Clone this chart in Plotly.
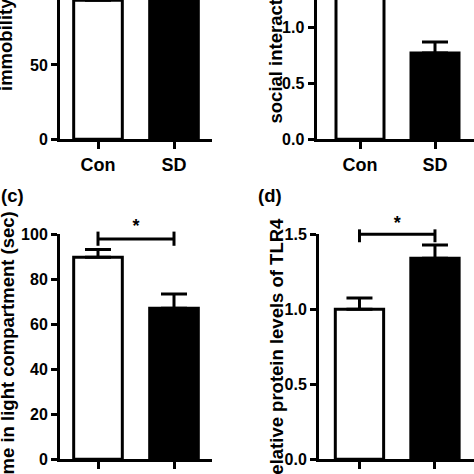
import plotly.graph_objects as go

W = H = 474

categories = ["Con", "SD"]

# (a) immobility time (top of panel cropped)
a_values = [93.6, 112.0]
a_errors = [4.0, 5.0]
a_ticks = [0, 50, 100]

# (b) social interaction (top of panel cropped)
b_values = [1.42, 0.77]
b_errors = [0.10, 0.10]
b_ticks = [0.0, 0.5, 1.0, 1.5]

# (c) time in light compartment
c_values = [89.8, 67.1]
c_errors = [3.5, 6.4]
c_ticks = [0, 20, 40, 60, 80, 100]
c_bracket = [94.9, 97.9, 101.2]   # low end, bar, high end
c_star = 103.2

# (d) TLR4 protein
d_values = [1.00, 1.34]
d_errors = [0.075, 0.088]
d_ticks = [0.0, 0.5, 1.0, 1.5]
d_bracket = [1.447, 1.50, 1.533]
d_star = 1.566

FONT = "Liberation Sans, Arial, sans-serif"
xpos = list(range(len(categories)))

def px(x):
    return x / W

def py(y):
    return 1 - y / H

fig = go.Figure()

def add_panel(n, values, errors):
    xa = "x" if n == 1 else f"x{n}"
    ya = "y" if n == 1 else f"y{n}"
    fig.add_trace(go.Bar(
        x=xpos, y=values, xaxis=xa, yaxis=ya,
        width=0.64,
        marker=dict(color=["white", "black"], line=dict(color="black", width=3)),
        error_y=dict(type="data", symmetric=False, array=errors, arrayminus=[0, 0],
                     color="black", thickness=3, width=13),
        showlegend=False,
    ))

def add_bracket(n, br, star):
    xa = f"x{n}"
    ya = f"y{n}"
    lo, mid, hi = br
    x0, x1 = xpos
    fig.add_trace(go.Scatter(
        x=[x0, x0, None, x0, x1, None, x1, x1],
        y=[lo, hi, None, mid, mid, None, lo, hi],
        xaxis=xa, yaxis=ya, mode="lines",
        line=dict(color="black", width=3), showlegend=False, hoverinfo="skip"))
    fig.add_trace(go.Scatter(
        x=[(x0 + x1) / 2], y=[star], xaxis=xa, yaxis=ya, mode="text", text=["*"],
        textposition="middle center",
        textfont=dict(family=FONT, size=18, color="black", weight="bold"),
        showlegend=False, hoverinfo="skip"))

add_panel(1, a_values, a_errors)
add_panel(2, b_values, b_errors)
add_panel(3, c_values, c_errors)
add_panel(4, d_values, d_errors)
# brackets live on invisible helper axes (5, 6) that continue the scale of panels c, d above their top
add_bracket(5, c_bracket, c_star)
add_bracket(6, d_bracket, d_star)

def xaxis(dom, rng, anchor, labels=True):
    return dict(domain=dom, range=rng, anchor=anchor, showline=True, linewidth=3, linecolor="black",
                tickvals=xpos, ticktext=categories, showticklabels=labels,
                ticks="outside", ticklen=7, tickwidth=3, tickcolor="black",
                showgrid=False, zeroline=False, ticklabelstandoff=0, automargin=False,
                tickfont=dict(family=FONT, size=18, color="black", weight="bold"))

def yaxis(dom, rng, ticks, fmt, anchor):
    return dict(domain=dom, range=rng, showline=True, linewidth=3, linecolor="black",
                ticks="outside", ticklen=6, tickwidth=3, tickcolor="black",
                tickvals=ticks, tickformat=fmt, anchor=anchor, automargin=False,
                showgrid=False, zeroline=False,
                tickfont=dict(family=FONT, size=16, color="black", weight="bold"))

def hidden(dom, rng, anchor):
    return dict(domain=dom, range=rng, anchor=anchor, visible=False, showgrid=False, zeroline=False)

# pixel layout of the bottom row
BOT_ZERO, BOT_TOP = 459.3, 234.3
HELP_HI, HELP_LO = 205.0, 256.0

def ext_range(rmax):
    f = lambda p: rmax * (BOT_ZERO - p) / (BOT_ZERO - BOT_TOP)
    return [f(HELP_LO), f(HELP_HI)]

top_dom = [py(139.3), 1.0]
bot_dom = [py(BOT_ZERO), py(BOT_TOP)]
help_dom = [py(HELP_LO), py(HELP_HI)]
left_dom = [px(60), px(212)]
b_dom = [px(316.5), 1.0]
d_dom = [px(319), 1.0]

fig.update_layout(
    width=W, height=H, margin=dict(l=0, r=0, t=0, b=0, pad=0, autoexpand=False),
    paper_bgcolor="white", plot_bgcolor="rgba(0,0,0,0)",
    xaxis=xaxis(left_dom, [-0.5, 1.5], "y"),
    yaxis=yaxis(top_dom, [0, 93.7], a_ticks, "d", "x"),
    xaxis2=xaxis(b_dom, [-0.58, 1.52], "y2"),
    yaxis2=yaxis(top_dom, [0, 1.244], b_ticks, ".1f", "x2"),
    xaxis3=xaxis(left_dom, [-0.5, 1.5], "y3", labels=False),
    yaxis3=yaxis(bot_dom, [0, 100], c_ticks, "d", "x3"),
    xaxis4=xaxis(d_dom, [-0.536, 1.517], "y4", labels=False),
    yaxis4=yaxis(bot_dom, [0, 1.5], d_ticks, ".1f", "x4"),
    xaxis5=hidden(left_dom, [-0.5, 1.5], "y5"),
    yaxis5=hidden(help_dom, ext_range(100), "x5"),
    xaxis6=hidden(d_dom, [-0.536, 1.517], "y6"),
    yaxis6=hidden(help_dom, ext_range(1.5), "x6"),
)

tfont = dict(family=FONT, size=18.5, color="black", weight="bold")
ann = [
    dict(text="immobility(sec)", x=px(6), y=py(92), xanchor="center", yanchor="bottom", textangle=-90),
    dict(text="social interaction ratio", x=px(275), y=py(125), xanchor="center", yanchor="bottom", textangle=-90),
    dict(text="Time in light compartment (sec)", x=px(7), y=py(211), xanchor="center", yanchor="top", textangle=-90),
    dict(text="Relative protein levels of TLR4", x=px(276), y=py(217), xanchor="center", yanchor="top", textangle=-90),
    dict(text="(c)", x=px(12), y=py(195), xanchor="center", yanchor="middle", textangle=0),
    dict(text="(d)", x=px(270), y=py(195), xanchor="center", yanchor="middle", textangle=0),
]
for a in ann:
    fig.add_annotation(xref="paper", yref="paper", showarrow=False, font=tfont, borderpad=0, **a)

fig.write_html("out.html", config={"displayModeBar": False},
               post_script="document.body.style.margin='0';document.body.style.overflow='hidden';")
